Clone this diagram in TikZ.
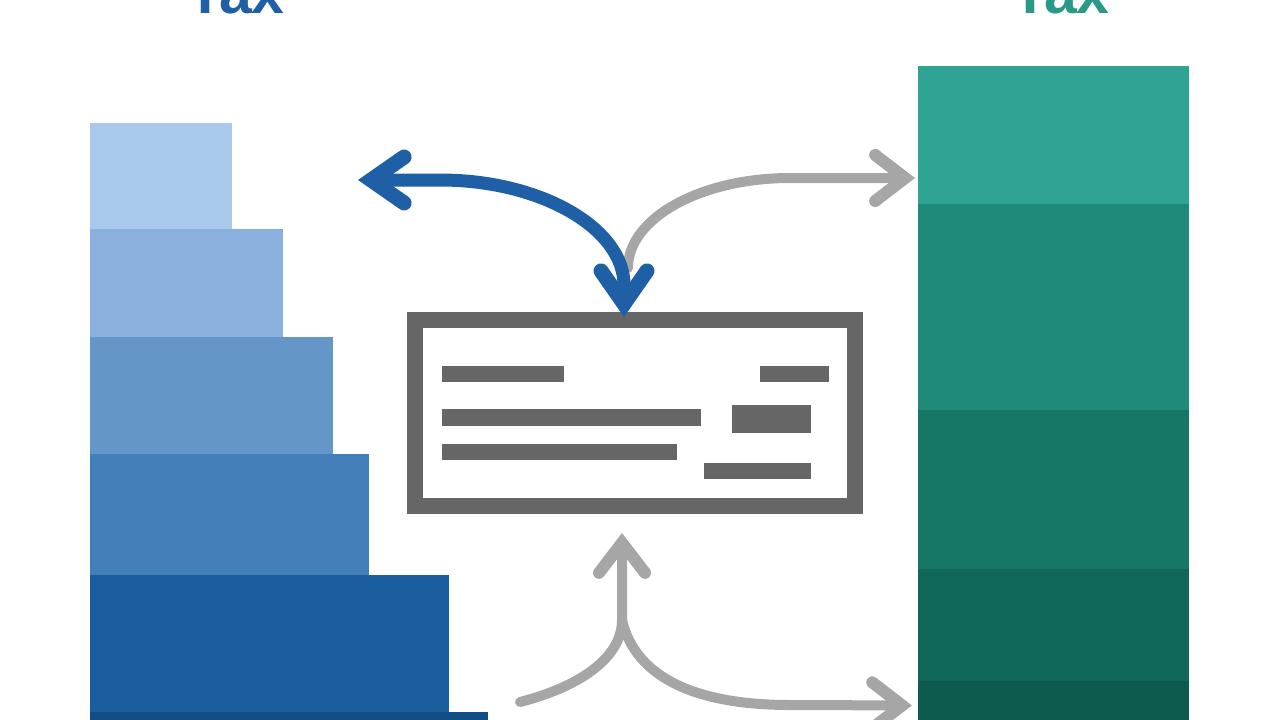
\documentclass[tikz,border=0pt]{standalone}
\usepackage{fontspec}
\setmainfont{Liberation Sans}
\usetikzlibrary{arrows.meta,shapes}
\definecolor{taxblue}{HTML}{1F5FA6}
\definecolor{taxteal}{HTML}{2A9A88}
\definecolor{stepA}{HTML}{A9C9EC}
\definecolor{stepB}{HTML}{8AB1DD}
\definecolor{stepC}{HTML}{6596C8}
\definecolor{stepD}{HTML}{427EB8}
\definecolor{stepE}{HTML}{1A5E9F}
\definecolor{stepF}{HTML}{124E86}
\definecolor{bandA}{HTML}{2FA394}
\definecolor{bandB}{HTML}{1F8A7A}
\definecolor{bandC}{HTML}{177767}
\definecolor{bandD}{HTML}{0F6659}
\definecolor{bandE}{HTML}{0D5A4E}
\definecolor{docgray}{HTML}{666666}
\definecolor{arrowgray}{HTML}{A6A6A6}
\tikzstyle{heading}=[anchor=base,inner sep=0pt,font=\fontsize{59}{62}\selectfont\bfseries]
\tikzstyle{bar}=[rectangle,anchor=north west,inner sep=0pt,outer sep=0pt]
\tikzstyle{docbox}=[rectangle,draw=docgray,line width=16pt,inner sep=0pt]
\tikzstyle{docline}=[rectangle,fill=docgray,inner sep=0pt,outer sep=0pt]
\tikzstyle{bluearrow}=[draw=taxblue,line width=13pt,{Straight Barb[length=33pt,width=46pt,line width=15pt,line cap=round,line join=miter]}-{Straight Barb[length=33pt,width=46pt,line width=15pt,line cap=round,line join=miter]}]
\tikzstyle{grayarrow}=[draw=arrowgray,line width=10pt,line cap=round,-{Straight Barb[length=30pt,width=46pt,line width=12pt,line cap=round,line join=miter]}]

\begin{document}
\begin{tikzpicture}[x=1pt,y=-1pt]
    \useasboundingbox (0,0) rectangle (1280,720);
    \clip (0,0) rectangle (1280,720);
    % Draw the two headings
    \node[heading,text=taxblue] (taxl) at (236,13) {Tax};
    \node[heading,text=taxteal] (taxr) at (1061,13) {Tax};

    % First the stairs on the left, then the flat column
    \foreach \name/\top/\w/\h/\col in {s1/123/142/106/stepA, s2/229/193/108/stepB, s3/337/243/117/stepC, s4/454/279/121/stepD, s5/575/359/137/stepE, s6/712/398/20/stepF}
        \node[bar,fill=\col,minimum width=\w pt,minimum height=\h pt] (\name) at (90,\top) {};
    \foreach \name/\top/\h/\col in {f1/66/138/bandA, f2/204/206/bandB, f3/410/159/bandC, f4/569/112/bandD, f5/681/49/bandE}
        \node[bar,fill=\col,minimum width=271pt,minimum height=\h pt] (\name) at (918,\top) {};

    % The form in the middle
    \node[docbox,minimum width=440pt,minimum height=186pt] (doc) at (635,413) {};
    \foreach \pos/\w/\h/\name in {{(503,374)/122/16/la}, {(794.5,374)/69/16/lb}, {(571.5,417.5)/259/17/lc}, {(771.5,419)/79/28/ld}, {(559.5,452)/235/16/le}, {(757.5,471)/107/16/lf}}
        \node[docline,minimum width=\w pt,minimum height=\h pt] (\name) at \pos {};

    % Connect with arrows
    \coordinate (bl) at (358,180);
    \coordinate (gt) at (628,268);
    \coordinate (gl) at (520,702);
    \coordinate (gj) at (622,620);
    \path[grayarrow,shorten >=3pt] (gt) .. controls (628,218) and (701,178) .. (790,178) -- (f1.west |- 0,178);
    \path[grayarrow] (gl) .. controls (575,688) and (622,660) .. (gj) -- ([xshift=-13pt,yshift=-19pt]doc.south);
    \path[grayarrow,shorten >=6pt] (gj) .. controls (636,680) and (700,705) .. (790,705) -- (f5.west);
    \path[bluearrow] (bl) -- (440,180) .. controls (542,180) and (624,229) .. (624,285) -- ([xshift=-11pt,yshift=-5pt]doc.north);
\end{tikzpicture}
\end{document}
